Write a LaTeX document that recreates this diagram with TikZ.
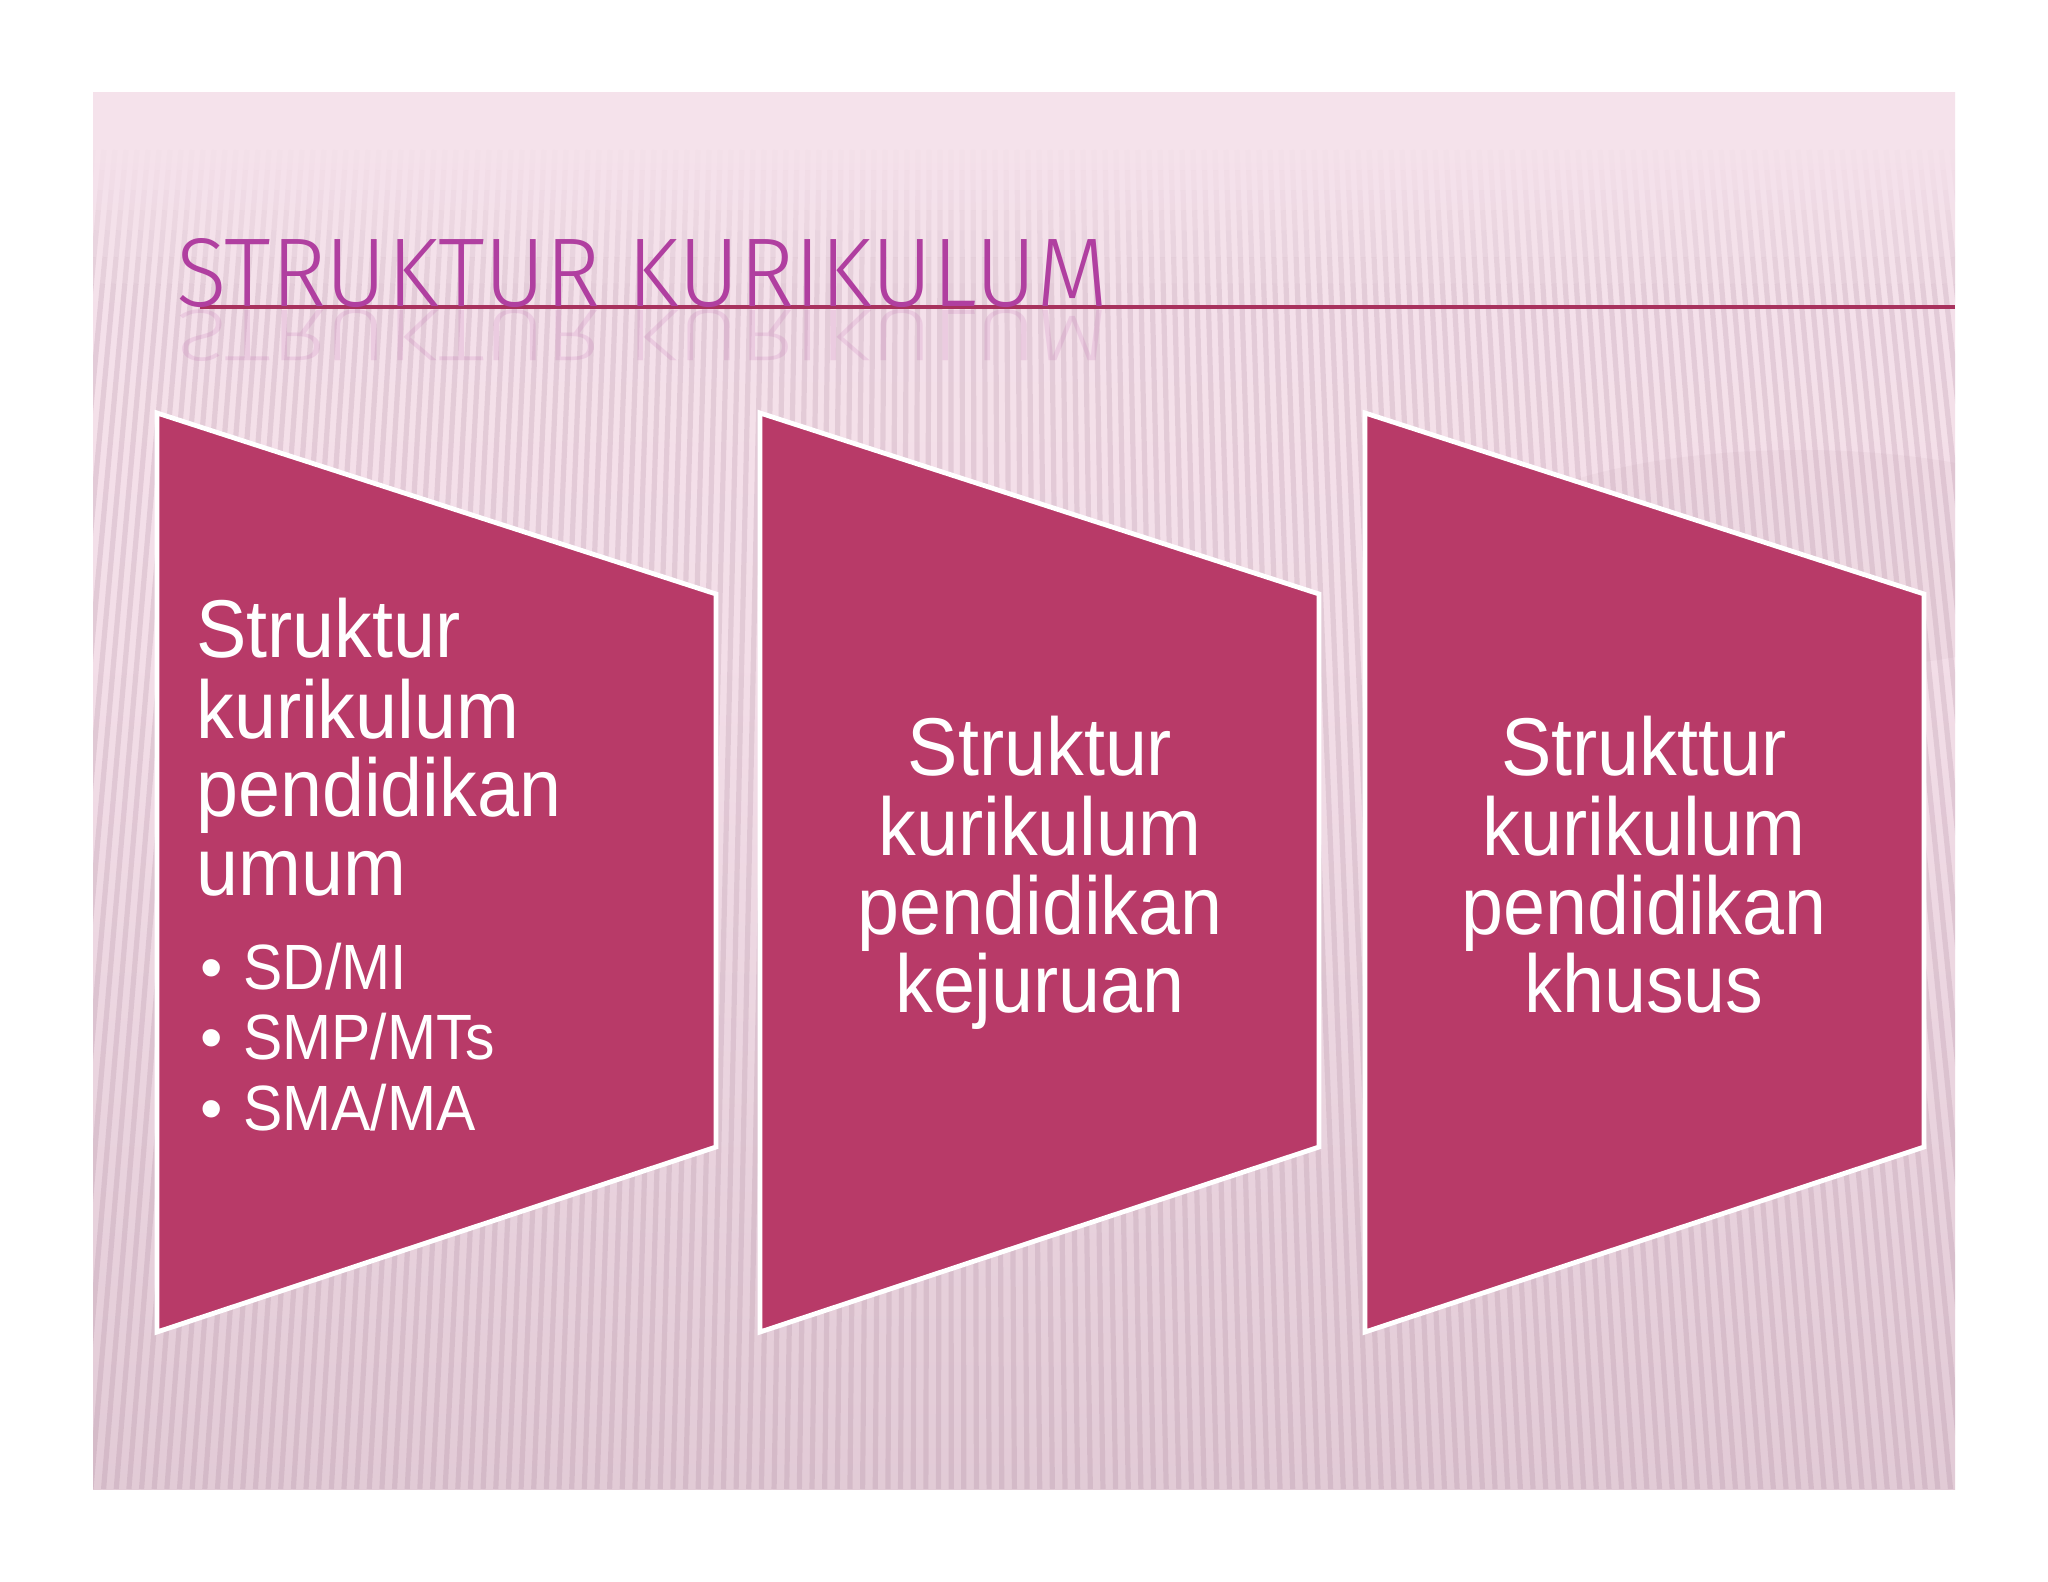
\documentclass[tikz,border=0pt]{standalone}
\usepackage{fontspec}
\setmainfont{Liberation Sans}
\newfontfamily\titlefont{Fira Sans Light}
\usetikzlibrary{calc}
\definecolor{bgtop}{HTML}{F7E7EF}
\definecolor{bgmid}{HTML}{F3DEE8}
\definecolor{bglow}{HTML}{DEC6D2}
\definecolor{bgbot}{HTML}{CFB3C3}
\definecolor{stripecol}{HTML}{A07A90}
\definecolor{boxfill}{HTML}{B83A68}
\definecolor{titlecol}{HTML}{B03FA0}
\definecolor{rulecol}{HTML}{A8325E}
\pgfdeclareverticalshading{slidebg}{100bp}{color(0bp)=(bgbot); color(18bp)=(bglow); color(55bp)=(bgmid); color(100bp)=(bgtop)}
\newcommand{\nx}[1]{\scalebox{0.92}[1]{#1}}
\begin{document}
\begin{tikzpicture}[x=0.5pt,y=-0.5pt,
  panel/.style={fill=boxfill, draw=white, line width=2.4pt, line join=miter},
  bigtext/.style={text=white, font=\fontsize{41}{41}\selectfont, inner sep=0pt},
  smalltext/.style={text=white, font=\fontsize{32}{32}\selectfont, inner sep=0pt},
  stripe/.style={draw=stripecol, line width=2.6pt}]
\useasboundingbox (0,0) rectangle (2048,1582);
\fill[white] (0,0) rectangle (2048,1582);
% slide background
\shade[shading=slidebg] (93,93) rectangle (1955,1489);
\begin{scope}
  \clip (93,93) rectangle (1955,1489);
  \foreach \i in {-20,...,185} {
    \pgfmathsetmacro\xt{93+11*\i}
    \pgfmathsetmacro\xb{\xt+(\xt-950)*0.15}
    \foreach \ta/\tb/\op in {0/0.015/0.015, 0.015/0.03/0.035, 0.03/0.045/0.06, 0.045/0.06/0.09, 0.06/0.08/0.12, 0.08/0.1/0.16, 0.1/1/0.2} {
      \draw[stripe, opacity=\op] ($(\xt,150)!\ta!(\xb,1489)$) -- ($(\xt,150)!\tb!(\xb,1489)$);
    }
  }
  \fill[stripecol, opacity=0.06] (1800,560) ellipse [x radius=330, y radius=110];
\end{scope}
% title and rule
\draw[rulecol, line width=2pt] (200,307) -- (1955,307);
\node[anchor=base west, inner sep=0pt, text=titlecol, text opacity=0.13] (titlerefl) at (176,311)
  {\scalebox{1}[-0.75]{\resizebox{466pt}{34pt}{\titlefont STRUKTUR KURIKULUM}}};
\node[anchor=base west, inner sep=0pt, text=titlecol] (title) at (176,307)
  {\resizebox{466pt}{34pt}{\titlefont STRUKTUR KURIKULUM}};
% panels
\draw[panel] (157,413) -- (716,594) -- (716,1147) -- (157,1332) -- cycle;
\draw[panel] (760,413) -- (1319,594) -- (1319,1147) -- (760,1332) -- cycle;
\draw[panel] (1365,413) -- (1924,594) -- (1924,1147) -- (1365,1332) -- cycle;
% panel 1 text
\node[bigtext, anchor=base west] (a1) at (196,657) {\nx{Struktur}};
\node[bigtext, anchor=base west] (a2) at (196,738) {\nx{kurikulum}};
\node[bigtext, anchor=base west] (a3) at (196,816) {\nx{pendidikan}};
\node[bigtext, anchor=base west] (a4) at (196,895) {\nx{umum}};
\node[smalltext, anchor=base] (d1) at (212,989) {•};
\node[smalltext, anchor=base west] (b1) at (243,989) {\nx{SD/MI}};
\node[smalltext, anchor=base] (d2) at (212,1059) {•};
\node[smalltext, anchor=base west] (b2) at (243,1059) {\nx{SMP/MTs}};
\node[smalltext, anchor=base] (d3) at (212,1130) {•};
\node[smalltext, anchor=base west] (b3) at (243,1130) {\nx{SMA/MA}};
% panel 2 text
\node[bigtext, anchor=base] (c1) at (1040,775) {\nx{Struktur}};
\node[bigtext, anchor=base] (c2) at (1040,855) {\nx{kurikulum}};
\node[bigtext, anchor=base] (c3) at (1040,934) {\nx{pendidikan}};
\node[bigtext, anchor=base] (c4) at (1040,1012) {\nx{kejuruan}};
% panel 3 text
\node[bigtext, anchor=base] (e1) at (1644,775) {\nx{Strukttur}};
\node[bigtext, anchor=base] (e2) at (1644,855) {\nx{kurikulum}};
\node[bigtext, anchor=base] (e3) at (1644,934) {\nx{pendidikan}};
\node[bigtext, anchor=base] (e4) at (1644,1012) {\nx{khusus}};
\end{tikzpicture}
\end{document}
